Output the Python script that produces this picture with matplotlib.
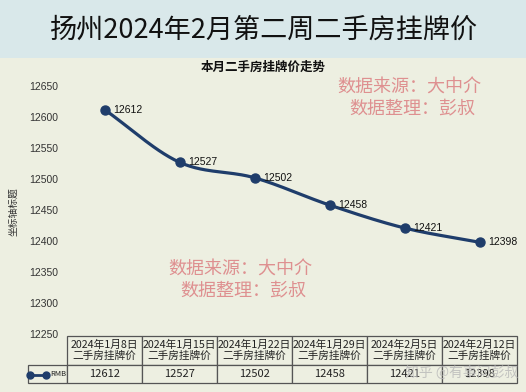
import numpy as np
import matplotlib
matplotlib.use("Agg")
import matplotlib.pyplot as plt
from matplotlib.lines import Line2D

plt.rcParams['font.family'] = ['Noto Sans CJK SC', 'DejaVu Sans']

# ---- data ----
dates = ["2024年1月8日", "2024年1月15日", "2024年1月22日",
         "2024年1月29日", "2024年2月5日", "2024年2月12日"]
prices = [12612, 12527, 12502, 12458, 12421, 12398]
yticks = [12250, 12300, 12350, 12400, 12450, 12500, 12550, 12600, 12650]
series_name = "RMB"
row_header = "二手房挂牌价"

title = "扬州2024年2月第二周二手房挂牌价"
subtitle = "本月二手房挂牌价走势"
ylabel = "坐标轴标题"
note1 = "数据来源：大中介"
note2 = "数据整理：彭叔"

BG = "#edefe1"
BAND = "#d9e8ea"
LINE = "#1f3d6b"

W, H = 526, 392
fig = plt.figure(figsize=(W / 100, H / 100), dpi=100)
fig.patch.set_facecolor(BG)

# title band
fig.patches.append(plt.Rectangle((0, 1 - 58 / H), 1, 58 / H, transform=fig.transFigure,
                                 facecolor=BAND, edgecolor="none", zorder=0))
fig.text(0.5, 1 - 30 / H, title, ha="center", va="center", fontsize=19.5, color="#111111")

ax = fig.add_axes([67 / W, 58 / H, 450 / W, 248 / H])
ax.set_facecolor(BG)
for s in ax.spines.values():
    s.set_visible(False)

x = np.arange(len(prices))
y = np.array(prices, dtype=float)

# smoothed line (Catmull-Rom through the data points, like Excel "smooth line")
px = np.concatenate([[2 * x[0] - x[1]], x, [2 * x[-1] - x[-2]]])
py = np.concatenate([[2 * y[0] - y[1]], y, [2 * y[-1] - y[-2]]])
sx, sy = [], []
t = np.linspace(0, 1, 30)
for i in range(1, len(px) - 2):
    for arr, out in ((px, sx), (py, sy)):
        p0, p1, p2, p3 = arr[i - 1], arr[i], arr[i + 1], arr[i + 2]
        out.extend(0.5 * (2 * p1 + (-p0 + p2) * t + (2 * p0 - 5 * p1 + 4 * p2 - p3) * t ** 2
                          + (-p0 + 3 * p1 - 3 * p2 + p3) * t ** 3))
ax.plot(sx, sy, color=LINE, lw=2.3, solid_capstyle="round", zorder=3)
ax.plot(x, y, "o", color=LINE, ms=6.5, zorder=4)

for xi, yi in zip(x, prices):
    ax.annotate(str(yi), (xi, yi), xytext=(6, 0), textcoords="offset points",
                ha="left", va="center", fontsize=7.5, color="#111111",
                family=["Liberation Sans", "DejaVu Sans"])

ax.set_xlim(-0.5, len(prices) - 0.5)
ax.set_ylim(yticks[0], yticks[-1])
ax.set_xticks([])
ax.set_yticks(yticks)
ax.set_yticklabels([str(v) for v in yticks], fontsize=7.5, color="#333333",
                   family=["Liberation Sans", "DejaVu Sans"])
ax.tick_params(axis="y", length=0, pad=6)

fig.text(13 / W, 1 - 212 / H, ylabel, rotation=90, ha="center", va="center",
         fontsize=7, color="#333333")
fig.text(263 / W, 1 - 67 / H, subtitle, ha="center", va="center",
         fontsize=9, fontweight="bold", color="#111111")

# source notes
for cx, cy in ((409, 88), (240, 270)):
    fig.text(cx / W, 1 - cy / H, note1, ha="center", va="center",
             fontsize=13, color="#dc7f82", alpha=0.85)
    fig.text((cx + 3) / W, 1 - (cy + 21) / H, note2, ha="center", va="center",
             fontsize=13, color="#dc7f82", alpha=0.85)

# data table: first column holds the series key
col_labels = [""] + [d + "\n" + row_header for d in dates]
cell_text = [[series_name] + [str(p) for p in prices]]
tbl = ax.table(cellText=cell_text, colLabels=col_labels, cellLoc="center",
               bbox=[-39 / 450, -49 / 248, 489 / 450, 47 / 248])
tbl.auto_set_font_size(False)
for (r, c), cell in tbl.get_celld().items():
    cell.set_facecolor(BG)
    cell.set_edgecolor("#555555")
    cell.set_linewidth(0.9)
    cell.set_width(0.52 if c == 0 else 1.0)
    if r == 0:
        cell.set_height(1.65)
        cell.get_text().set_linespacing(1.1)
        cell.get_text().set_fontsize(7.7)
    else:
        cell.set_height(1.0)
        cell.get_text().set_fontsize(8)
    cell.get_text().set_color("#222222")
tbl[0, 0].visible_edges = ""
tbl[1, 0].get_text().set_fontsize(5.5)
tbl[1, 0].get_text().set_horizontalalignment("right")
tbl[1, 0].PAD = 0.02

# legend key in first column
ax.add_line(Line2D([-37 / 450, -21 / 450], [-41 / 248, -41 / 248], transform=ax.transAxes,
                   color=LINE, lw=2, marker="o", ms=5, clip_on=False, zorder=5))

# platform watermark
fig.text(462 / W, 1 - 373 / H, "知乎 @有事问彭叔", ha="center", va="center",
         fontsize=10, color="#b8b8b8", alpha=0.8)

fig.savefig("out.png", dpi=100, facecolor=fig.get_facecolor())
